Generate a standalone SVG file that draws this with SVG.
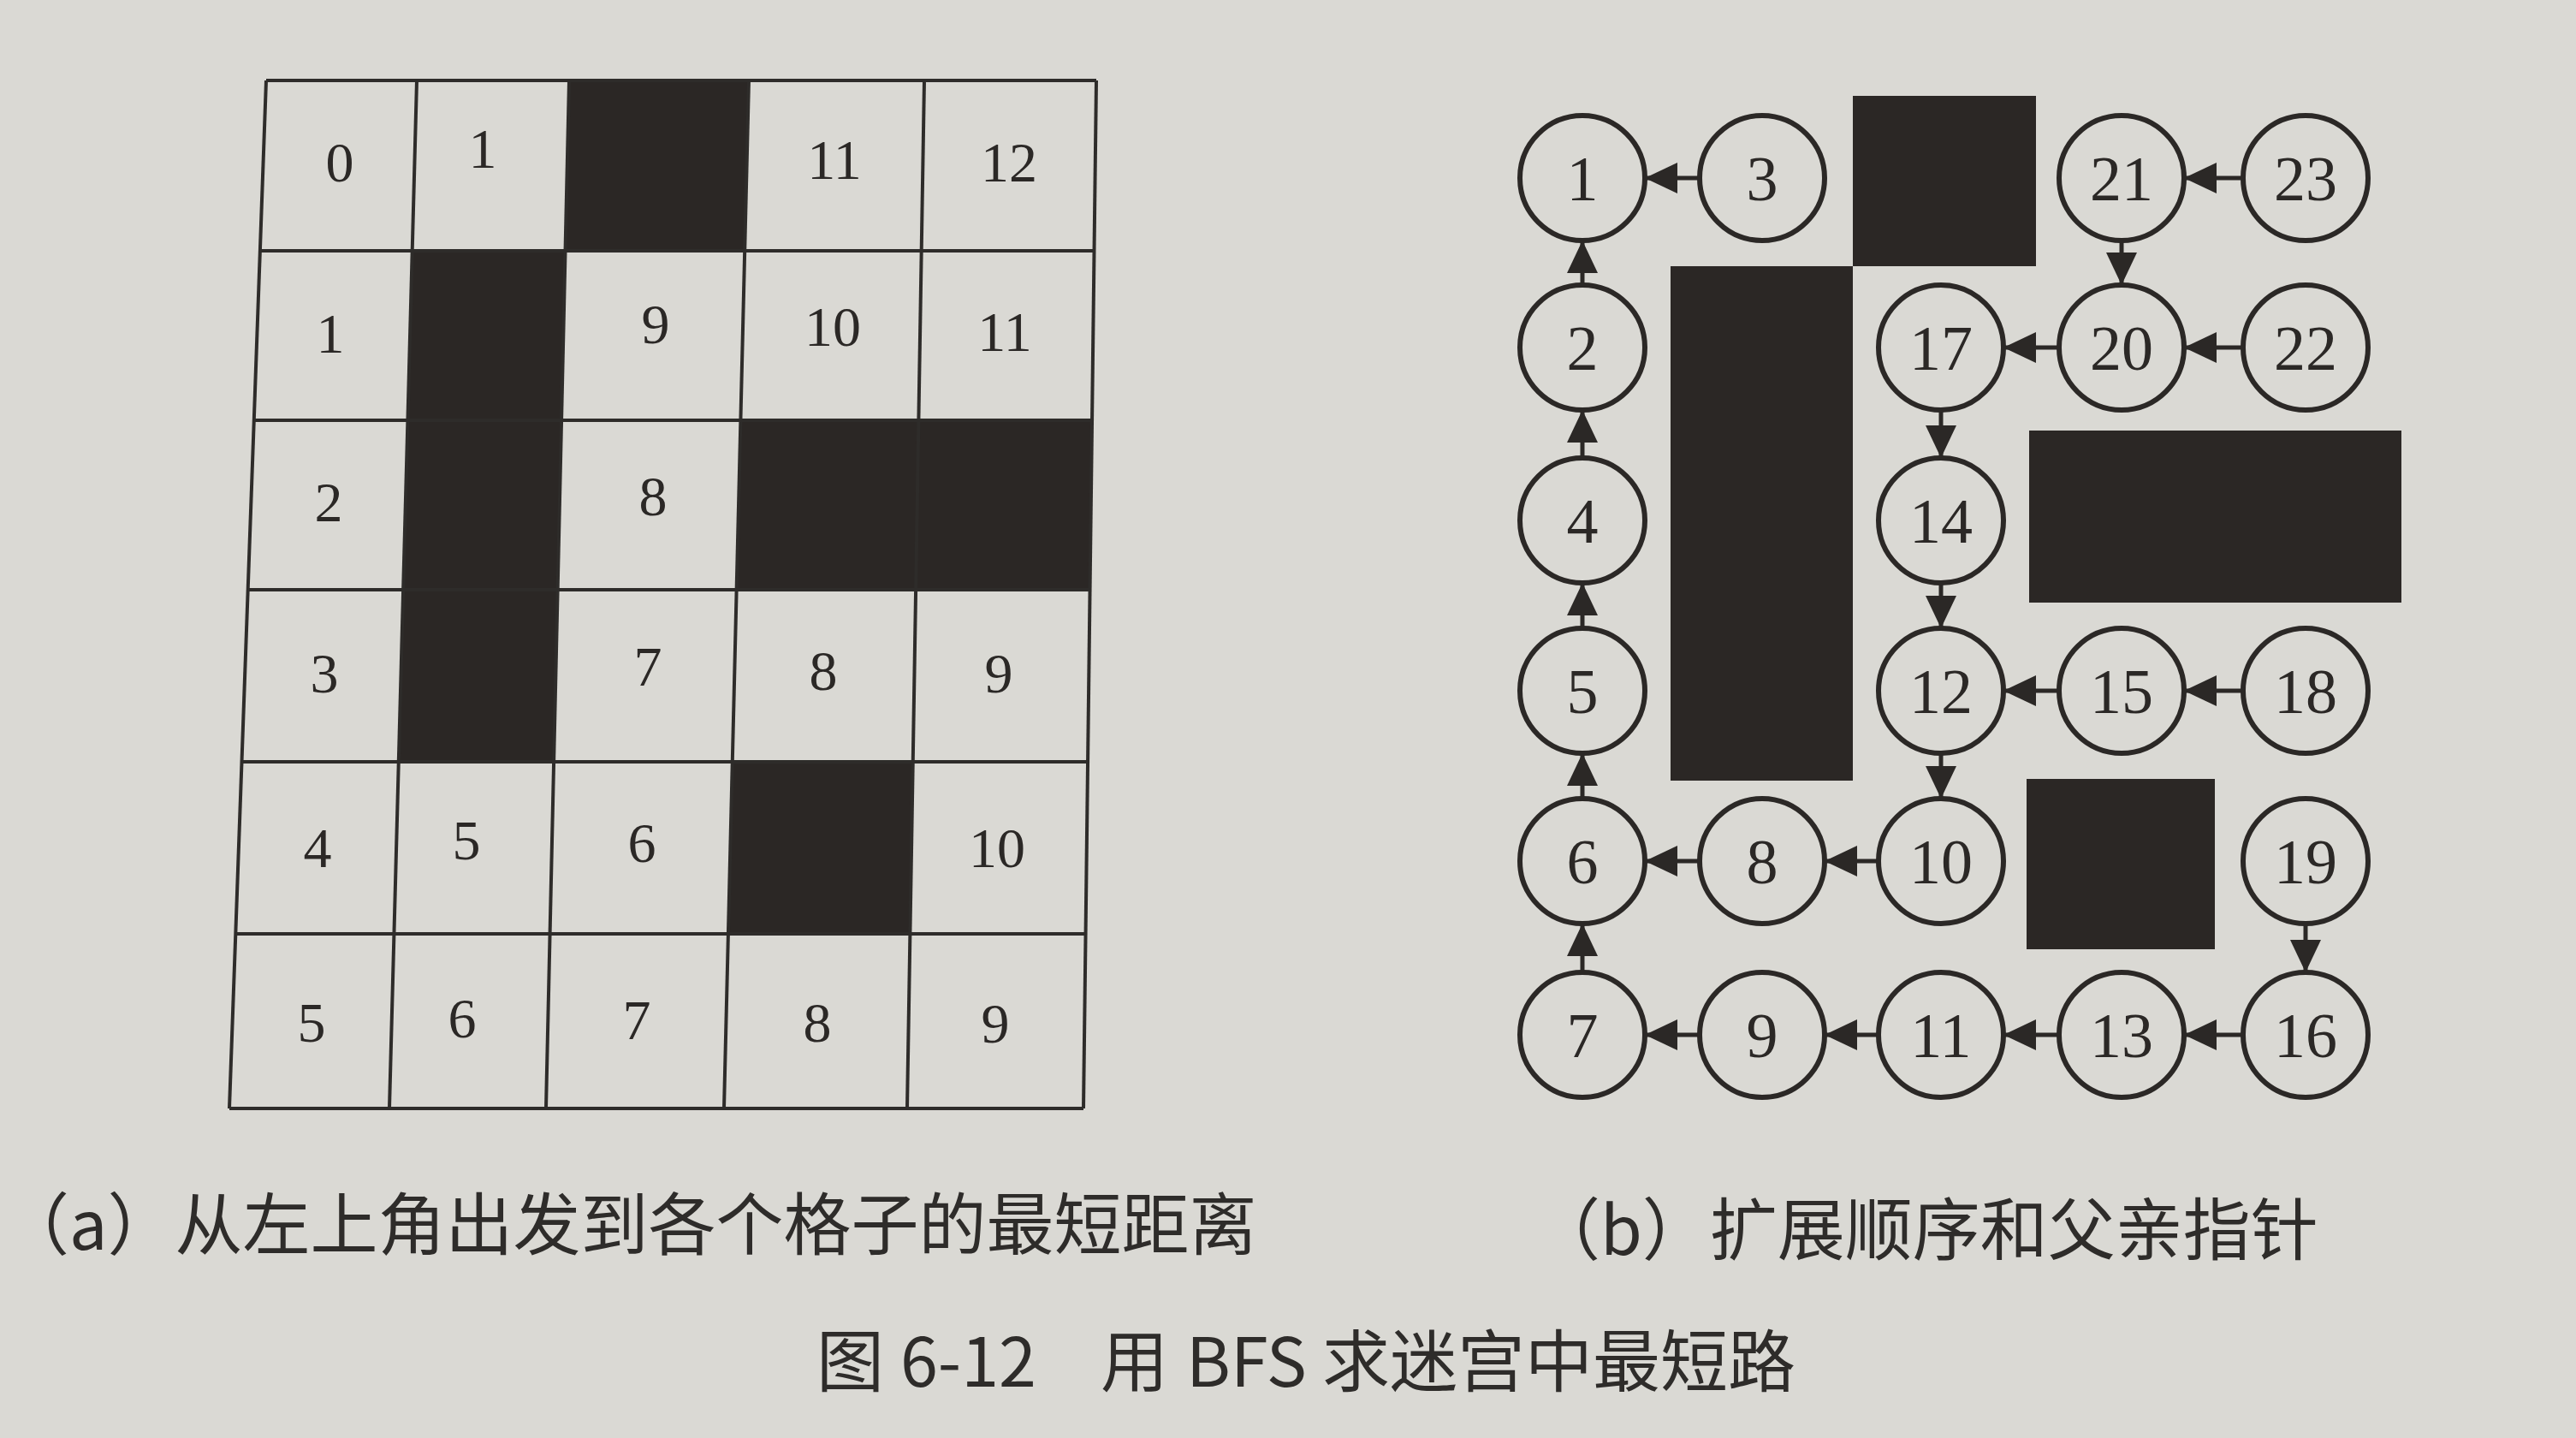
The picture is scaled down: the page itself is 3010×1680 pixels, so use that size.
<svg xmlns="http://www.w3.org/2000/svg" width="3010" height="1680" viewBox="0 0 3010 1680">
<defs>
<marker id="ah" viewBox="0 0 38 36" refX="38" refY="18" markerWidth="38" markerHeight="36" markerUnits="userSpaceOnUse" orient="auto"><path d="M0,0 L38,18 L0,36 z" fill="#2b2826"/></marker>
</defs>
<style>
.bg{fill:#dad9d4}
.gl{stroke:#2e2c2a;stroke-width:4;fill:none}
.blk{fill:#2b2725}
.cn{font-family:"Liberation Serif",serif;font-size:66px;fill:#2b2826;text-anchor:middle}
.nd circle{fill:#dad9d4;stroke:#2b2826;stroke-width:6}
.nd text{font-family:"Liberation Serif",serif;font-size:74px;fill:#2b2826;text-anchor:middle}
.ed line{stroke:#2b2826;stroke-width:5;marker-end:url(#ah)}
.cap{font-family:"Noto Sans CJK SC",sans-serif;font-size:79px;fill:#2e2c2a}
</style>
<rect class="bg" x="0" y="0" width="3010" height="1680"/>

<g id="grid">
<polygon class="blk" points="665,94 875,94 870.2,293 660.5,293"/>
<polygon class="blk" points="481.7,293 660.5,293 647.1,890 465.8,890"/>
<polygon class="blk" points="865.4,491 1276,491 1273.6,689 860.6,689"/>
<polygon class="blk" points="855.8,890 1066.7,890 1063.4,1091 850.9,1091"/>
<line class="gl" x1="311" y1="94" x2="268" y2="1295"/>
<line class="gl" x1="487" y1="94" x2="455" y2="1295"/>
<line class="gl" x1="665" y1="94" x2="638" y2="1295"/>
<line class="gl" x1="875" y1="94" x2="846" y2="1295"/>
<line class="gl" x1="1080" y1="94" x2="1060" y2="1295"/>
<line class="gl" x1="1281" y1="94" x2="1266" y2="1295"/>
<line class="gl" x1="311" y1="94" x2="1281" y2="94"/>
<line class="gl" x1="303.9" y1="293" x2="1278.5" y2="293"/>
<line class="gl" x1="296.8" y1="491" x2="1276" y2="491"/>
<line class="gl" x1="289.7" y1="689" x2="1273.6" y2="689"/>
<line class="gl" x1="282.5" y1="890" x2="1271.1" y2="890"/>
<line class="gl" x1="275.3" y1="1091" x2="1268.5" y2="1091"/>
<line class="gl" x1="268" y1="1295" x2="1266" y2="1295"/>
<text class="cn" x="397" y="212">0</text>
<text class="cn" x="564" y="196">1</text>
<text class="cn" x="975" y="209">11</text>
<text class="cn" x="1179" y="212">12</text>
<text class="cn" x="386" y="412">1</text>
<text class="cn" x="766" y="401">9</text>
<text class="cn" x="973" y="404">10</text>
<text class="cn" x="1174" y="410">11</text>
<text class="cn" x="384" y="609">2</text>
<text class="cn" x="763" y="602">8</text>
<text class="cn" x="379" y="809">3</text>
<text class="cn" x="757" y="801">7</text>
<text class="cn" x="962" y="806">8</text>
<text class="cn" x="1167" y="809">9</text>
<text class="cn" x="371" y="1013">4</text>
<text class="cn" x="545" y="1004">5</text>
<text class="cn" x="750" y="1007">6</text>
<text class="cn" x="1165" y="1013">10</text>
<text class="cn" x="364" y="1217">5</text>
<text class="cn" x="540" y="1212">6</text>
<text class="cn" x="744" y="1214">7</text>
<text class="cn" x="955" y="1217">8</text>
<text class="cn" x="1163" y="1218">9</text>
</g>

<g id="walls">
<rect class="blk" x="2165" y="112" width="214" height="199"/>
<rect class="blk" x="1952" y="311" width="213" height="601"/>
<rect class="blk" x="2371" y="503" width="435" height="201"/>
<rect class="blk" x="2368" y="910" width="220" height="199"/>
</g>

<g id="connectors" class="ed">
<line x1="1986" y1="208" x2="1922" y2="208"/>
<line x1="2621" y1="208" x2="2552" y2="208"/>
<line x1="2479" y1="281" x2="2479" y2="333"/>
<line x1="2621" y1="406" x2="2552" y2="406"/>
<line x1="2406" y1="406" x2="2341" y2="406"/>
<line x1="2268" y1="479" x2="2268" y2="535"/>
<line x1="2268" y1="681" x2="2268" y2="734"/>
<line x1="2621" y1="807" x2="2552" y2="807"/>
<line x1="2406" y1="807" x2="2341" y2="807"/>
<line x1="2268" y1="880" x2="2268" y2="933"/>
<line x1="2195" y1="1006" x2="2132" y2="1006"/>
<line x1="1986" y1="1006" x2="1922" y2="1006"/>
<line x1="1849" y1="333" x2="1849" y2="281"/>
<line x1="1849" y1="535" x2="1849" y2="479"/>
<line x1="1849" y1="734" x2="1849" y2="681"/>
<line x1="1849" y1="933" x2="1849" y2="880"/>
<line x1="1849" y1="1136" x2="1849" y2="1079"/>
<line x1="2694" y1="1079" x2="2694" y2="1136"/>
<line x1="2621" y1="1209" x2="2552" y2="1209"/>
<line x1="2406" y1="1209" x2="2341" y2="1209"/>
<line x1="2195" y1="1209" x2="2132" y2="1209"/>
<line x1="1986" y1="1209" x2="1922" y2="1209"/>
</g>

<g id="n1" class="nd"><circle cx="1849" cy="208" r="73"/><text x="1849" y="234">1</text></g>
<g id="n3" class="nd"><circle cx="2059" cy="208" r="73"/><text x="2059" y="234">3</text></g>
<g id="n21" class="nd"><circle cx="2479" cy="208" r="73"/><text x="2479" y="234">21</text></g>
<g id="n23" class="nd"><circle cx="2694" cy="208" r="73"/><text x="2694" y="234">23</text></g>
<g id="n2" class="nd"><circle cx="1849" cy="406" r="73"/><text x="1849" y="432">2</text></g>
<g id="n17" class="nd"><circle cx="2268" cy="406" r="73"/><text x="2268" y="432">17</text></g>
<g id="n20" class="nd"><circle cx="2479" cy="406" r="73"/><text x="2479" y="432">20</text></g>
<g id="n22" class="nd"><circle cx="2694" cy="406" r="73"/><text x="2694" y="432">22</text></g>
<g id="n4" class="nd"><circle cx="1849" cy="608" r="73"/><text x="1849" y="634">4</text></g>
<g id="n14" class="nd"><circle cx="2268" cy="608" r="73"/><text x="2268" y="634">14</text></g>
<g id="n5" class="nd"><circle cx="1849" cy="807" r="73"/><text x="1849" y="833">5</text></g>
<g id="n12" class="nd"><circle cx="2268" cy="807" r="73"/><text x="2268" y="833">12</text></g>
<g id="n15" class="nd"><circle cx="2479" cy="807" r="73"/><text x="2479" y="833">15</text></g>
<g id="n18" class="nd"><circle cx="2694" cy="807" r="73"/><text x="2694" y="833">18</text></g>
<g id="n6" class="nd"><circle cx="1849" cy="1006" r="73"/><text x="1849" y="1032">6</text></g>
<g id="n8" class="nd"><circle cx="2059" cy="1006" r="73"/><text x="2059" y="1032">8</text></g>
<g id="n10" class="nd"><circle cx="2268" cy="1006" r="73"/><text x="2268" y="1032">10</text></g>
<g id="n19" class="nd"><circle cx="2694" cy="1006" r="73"/><text x="2694" y="1032">19</text></g>
<g id="n7" class="nd"><circle cx="1849" cy="1209" r="73"/><text x="1849" y="1235">7</text></g>
<g id="n9" class="nd"><circle cx="2059" cy="1209" r="73"/><text x="2059" y="1235">9</text></g>
<g id="n11" class="nd"><circle cx="2268" cy="1209" r="73"/><text x="2268" y="1235">11</text></g>
<g id="n13" class="nd"><circle cx="2479" cy="1209" r="73"/><text x="2479" y="1235">13</text></g>
<g id="n16" class="nd"><circle cx="2694" cy="1209" r="73"/><text x="2694" y="1235">16</text></g>

<g id="captions">
<text class="cap" x="2" y="1460" font-size="78">（a）从左上角出发到各个格子的最短距离</text>
<text class="cap" x="1791" y="1466">（b）扩展顺序和父亲指针</text>
<text class="cap" y="1620"><tspan x="954">图</tspan><tspan x="1052">6-12</tspan><tspan x="1286">用</tspan><tspan x="1386">BFS</tspan><tspan x="1545">求迷宫中最短路</tspan></text>
</g>
</svg>
